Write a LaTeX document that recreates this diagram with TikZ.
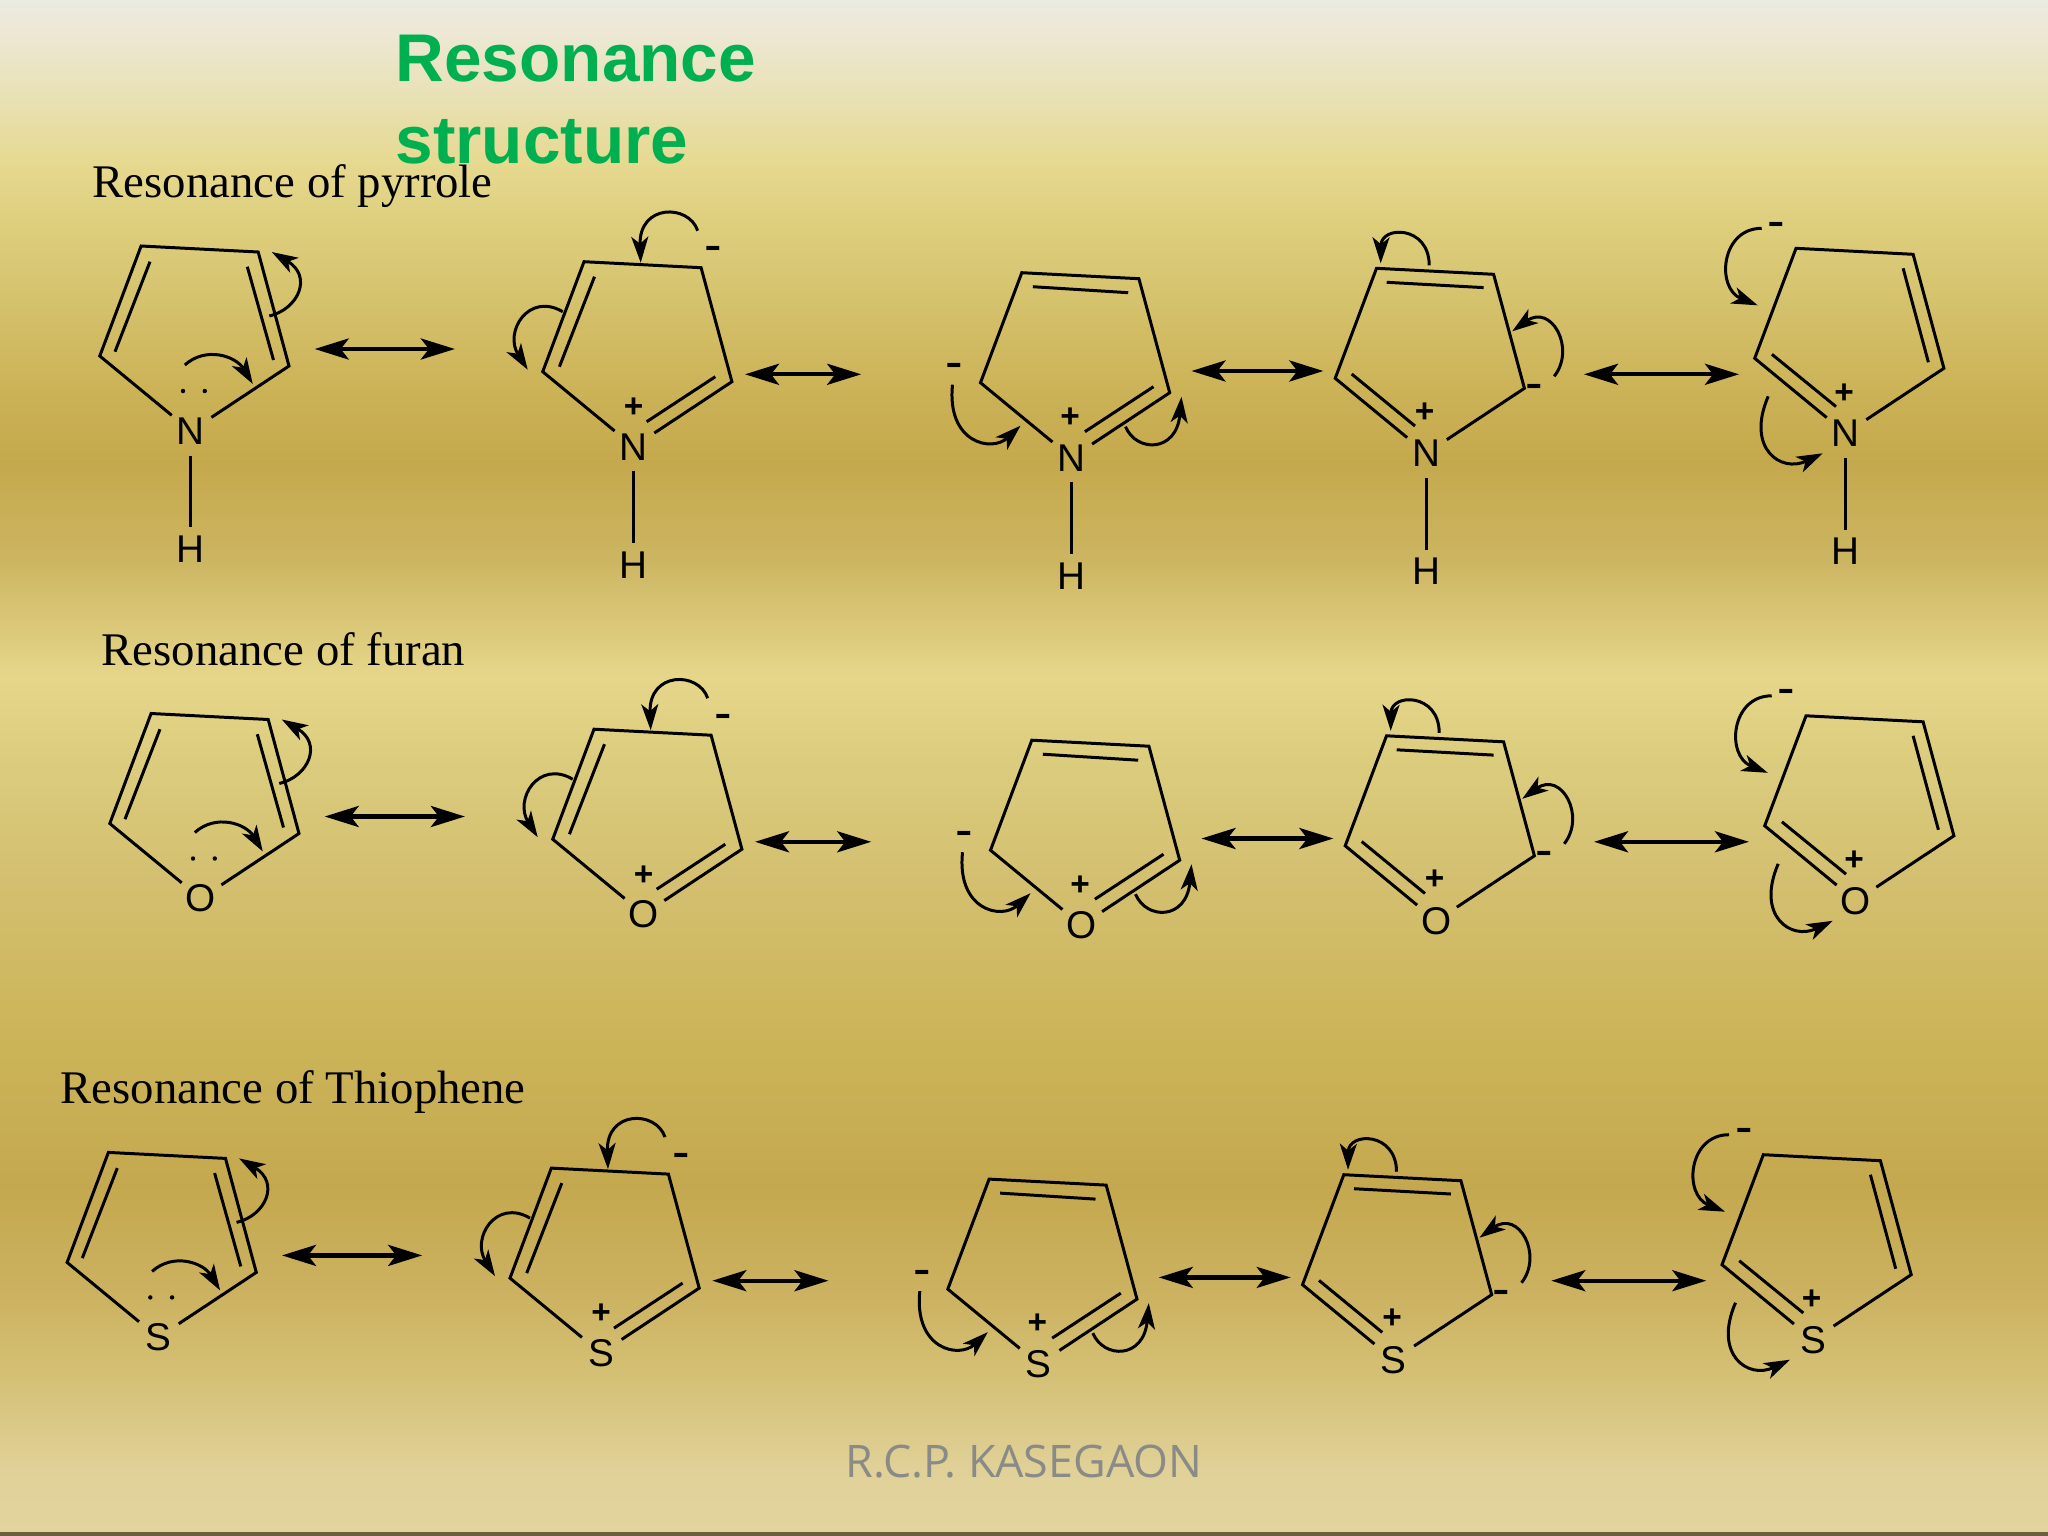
\documentclass[tikz,border=0pt]{standalone}
\usepackage{fontspec}
\usetikzlibrary{arrows.meta}
\setmainfont{Liberation Sans}
\newfontfamily\captionface{Liberation Serif}
\newfontfamily\footface{Open Sans}
\definecolor{titlegreen}{HTML}{00B050}
\definecolor{footgrey}{HTML}{8A8A86}
\definecolor{bandline}{HTML}{6B5F3F}
\pgfdeclareverticalshading{slidegrad}{100bp}{
  rgb(0bp)=(0.89,0.83,0.62);
  rgb(25bp)=(0.89,0.83,0.62);
  rgb(27.1bp)=(0.88,0.82,0.60);
  rgb(30.4bp)=(0.83,0.75,0.45);
  rgb(32.8bp)=(0.80,0.70,0.38);
  rgb(36.4bp)=(0.77,0.66,0.31);
  rgb(41.5bp)=(0.80,0.71,0.35);
  rgb(46.4bp)=(0.83,0.75,0.44);
  rgb(50.1bp)=(0.86,0.80,0.49);
  rgb(53bp)=(0.90,0.84,0.54);
  rgb(56.8bp)=(0.80,0.71,0.38);
  rgb(60bp)=(0.77,0.66,0.30);
  rgb(62.3bp)=(0.80,0.70,0.34);
  rgb(65.7bp)=(0.84,0.77,0.44);
  rgb(67.7bp)=(0.87,0.81,0.49);
  rgb(69.6bp)=(0.90,0.85,0.56);
  rgb(71.7bp)=(0.91,0.88,0.70);
  rgb(74bp)=(0.93,0.91,0.84);
  rgb(75bp)=(0.92,0.92,0.88);
  rgb(100bp)=(0.92,0.92,0.88)}
\newcommand{\ring}[4]{
  \node[atom] (X-#1) at (#2,#3) {#4};
  \begin{scope}[shift={(#2,#3)}]
    \coordinate (BL-#1) at (-91,-75);
    \coordinate (TL-#1) at (-49.7,-185);
    \coordinate (TR-#1) at (67.4,-179);
    \coordinate (BR-#1) at (98.2,-65);
    \ifnum\r=1
      \node[hatom] (H-#1) at (0,118) {H};
      \draw[bond] (X-#1) -- (H-#1);
    \fi
  \end{scope}
  \draw[bond] (X-#1) -- (BL-#1) -- (TL-#1) -- (TR-#1) -- (BR-#1) -- (X-#1);
}
\newcommand{\reso}[4]{
  \coordinate (RA-#1) at (#2,#4);
  \coordinate (RB-#1) at (#3,#4);
  \draw[resonance] (RA-#1) -- (RB-#1);
}

\begin{document}
\begin{tikzpicture}[x=0.01cm, y=-0.01cm]
  \tikzset{
    bond/.style={line width=0.85pt, line join=miter},
    curly/.style={line width=0.85pt, -{Stealth[length=0.26cm,width=0.17cm,inset=0.07cm]}},
    resonance/.style={line width=1.2pt, {Stealth[length=0.34cm,width=0.21cm,inset=0.08cm]}-{Stealth[length=0.34cm,width=0.21cm,inset=0.08cm]}},
    atom/.style={circle, inner sep=0pt, minimum size=0.48cm, font=\fontsize{11}{11}\selectfont},
    hatom/.style={atom, minimum size=0.42cm},
    plus/.style={inner sep=0pt, font=\fontsize{9.5}{9.5}\selectfont\bfseries},
    minus/.style={inner sep=0pt, font=\fontsize{15}{15}\selectfont},
    caption/.style={anchor=base west, inner sep=0pt, font=\captionface\fontsize{13.3}{13.3}\selectfont}
  }
  \useasboundingbox (0,0) rectangle (2048,1536);
  \shade[shading=slidegrad] (0,0) rectangle (2048,1536);
  \fill[bandline] (0,1532) rectangle (2048,1536);

  \node[anchor=north west, inner sep=0pt, align=left, text=titlegreen,
    font=\fontsize{19.2}{23.3}\selectfont\bfseries] (title) at (395,34) {Resonance\\structure};
  \node[caption] (cap-1) at (92,197) {Resonance of pyrrole};
  \node[caption] (cap-2) at (101,665) {Resonance of furan};
  \node[caption] (cap-3) at (60,1103) {Resonance of Thiophene};
  \node[anchor=base, inner sep=0pt, text=footgrey, font=\footface\fontsize{12.75}{12.75}\selectfont] (foot) at (1024,1477) {R.C.P. KASEGAON};

  \foreach \r/\dx/\dy/\atomname in {1/0/0/N, 2/10/467.5/O, 3/-32.7/906.4/S} {
    \begin{scope}[shift={(\dx,\dy)}]
      \reso{\r-1}{314.7}{454.9}{349}
      \reso{\r-2}{745}{861.2}{374.3}
      \reso{\r-3}{1191.5}{1323.4}{371}
      \reso{\r-4}{1584}{1739}{374.3}

      \ring{\r-1}{190.8}{431}{\atomname}
      \begin{scope}[shift={(190.8,431)}]
        \draw[bond] (-40.8,-169.3) -- (-75.8,-79.3);
        \draw[bond] (56.5,-164.3) -- (82.7,-71);
        \fill (-7.8,-40) circle[radius=2.2];
        \fill (14,-40) circle[radius=2.2];
        \draw[curly] (78.5,-115) .. controls (108,-122) and (122,-155) .. (81,-179);
        \draw[curly] (-6,-66) .. controls (15,-85) and (45,-75) .. (62,-47);
      \end{scope}

      \ring{\r-2}{633.7}{446.7}{\atomname}
      \begin{scope}[shift={(633.7,446.7)}]
        \draw[bond] (-39.2,-170) -- (-74.3,-80);
        \draw[bond] (13,-25) -- (81.6,-70);
        \node[plus] (plus-\r-2) at (0,-39) {+};
        \node[minus] (minus-\r-2) at (80,-192) {-};
        \draw[curly] (64,-216) .. controls (55,-243) and (5,-243) .. (7,-184);
        \draw[curly] (-71,-135) .. controls (-105,-155) and (-130,-115) .. (-106,-77);
      \end{scope}

      \ring{\r-3}{1071.5}{457.7}{\atomname}
      \begin{scope}[shift={(1071.5,457.7)}]
        \draw[bond] (-38.7,-171) -- (56.7,-165);
        \draw[bond] (13.4,-26) -- (82,-71);
        \node[plus] (plus-\r-3) at (-1.5,-40) {+};
        \node[minus] (minus-\r-3) at (-117,-86) {-};
        \draw[curly] (-119,-73) .. controls (-125,-15) and (-80,-5) .. (-51,-32);
        \draw[curly] (54,-31) .. controls (65,-5) and (105,-5) .. (110,-61);
      \end{scope}

      \ring{\r-4}{1426.2}{453.3}{\atomname}
      \begin{scope}[shift={(1426.2,453.3)}]
        \draw[bond] (-39.5,-171) -- (57.4,-165.7);
        \draw[bond] (-74.5,-79.3) -- (-11.2,-27.3);
        \node[plus] (plus-\r-4) at (-1.5,-41) {+};
        \node[minus] (minus-\r-4) at (108,-61) {-};
        \draw[curly] (3,-188) .. controls (3,-228) and (-45,-228) .. (-45.5,-190);
        \draw[curly] (128,-77) .. controls (150,-105) and (125,-150) .. (86,-122);
      \end{scope}

      \ring{\r-5}{1845.7}{433.3}{\atomname}
      \begin{scope}[shift={(1845.7,433.3)}]
        \draw[bond] (-73.8,-79) -- (-9.7,-26.7);
        \draw[bond] (57.4,-165) -- (82.7,-71);
        \node[plus] (plus-\r-5) at (-1.5,-40) {+};
        \node[minus] (minus-\r-5) at (-69,-203) {-};
        \draw[curly] (-84,-205) .. controls (-125,-205) and (-130,-145) .. (-88,-128);
        \draw[curly] (-77.5,-37) .. controls (-100,15) and (-65,40) .. (-23,20);
      \end{scope}
    \end{scope}
  }
\end{tikzpicture}
\end{document}
